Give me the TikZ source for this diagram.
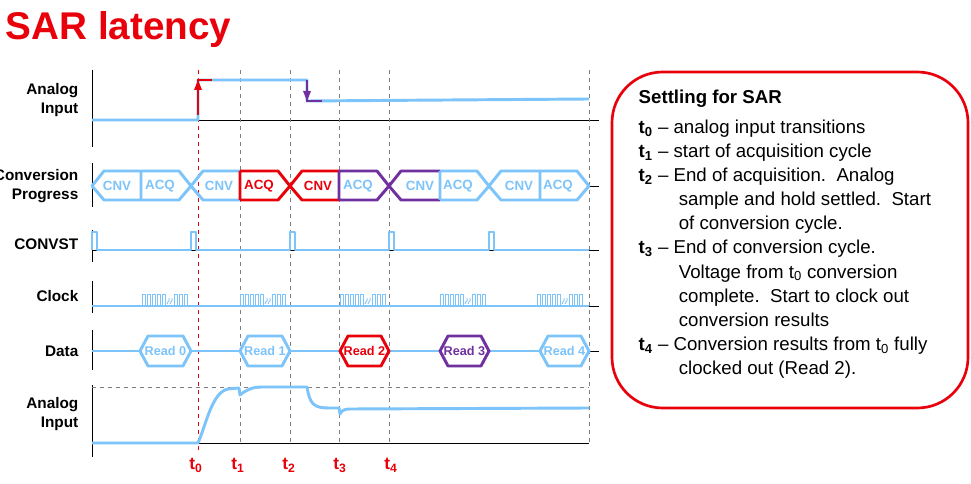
\documentclass[tikz,border=0pt]{standalone}
\usepackage{fontspec}
\setmainfont{Liberation Sans}
\begin{document}
\definecolor{sb}{HTML}{7CC4FA}
\definecolor{sr}{HTML}{E8000B}
\definecolor{sp}{HTML}{7030A0}
\begin{tikzpicture}[x=0.75pt,y=-0.75pt,
  sig/.style={line width=2.2pt,line join=round},
  ax/.style={line width=0.7pt,black},
  grid/.style={gray,dashed,line width=0.5pt},
  lab/.style={font=\bfseries\fontsize{11.5}{14}\selectfont,align=right,anchor=east},
  hx/.style={font=\bfseries\fontsize{10}{12}\selectfont},
  tl/.style={font=\bfseries\fontsize{13}{15}\selectfont,text=sr},
  bt/.style={font=\fontsize{14}{18.1}\selectfont,anchor=west,align=left}]
\path[use as bounding box,fill=white] (0,0) rectangle (971,484);
\node[anchor=west,font=\bfseries\fontsize{29}{33}\selectfont,text=sr] (title) at (1,30) {SAR latency};
% labels
\node[lab] (l1) at (83,100) {Analog\\Input};
\node[lab] (l2) at (83,186) {Conversion\\Progress};
\node[lab] (l3) at (83,244) {CONVST};
\node[lab] (l4) at (83,296) {Clock};
\node[lab] (l5) at (83,351) {Data};
\node[lab] (l6) at (83,414) {Analog\\Input};
% axes
\draw[ax] (92,70)--(92,147); \draw[ax] (92,120)--(599,120);
\draw[ax] (92,163)--(92,207); \draw[ax] (589,186)--(599,186);
\draw[ax] (92,230)--(92,262); \draw[ax] (92,250)--(599,250);
\draw[ax] (92,281)--(92,313); \draw[ax] (92,306)--(599,306);
\draw[ax] (92,330)--(92,370); \draw[ax] (589,351)--(599,351);
\draw[ax] (92,385)--(92,457); \draw[ax] (198,443)--(589,443);
% grid
\foreach \x in {240,290,339,389,589} \draw[grid] (\x,70)--(\x,443);
\draw[grid] (92,387)--(589,387);
\draw[sr,dashed,line width=0.7pt] (198,70)--(198,452);
% top analog
\draw[sig,sb] (92,120)--(198,120)--(198,80)--(307,80)--(307,101)--(589,99);
\draw[sr,line width=1pt] (198,115)--(198,80)--(212,80);
\fill[sr] (198,80)--(194,90)--(202,90)--cycle;
\draw[sp,line width=1pt] (307,80)--(307,101)--(322,101);
\fill[sp] (307,101)--(303,91)--(311,91)--cycle;
% conversion progress
\draw[sig,sb] (92,186)--(104,171)--(179,171)--(191,186)--(179,200)--(104,200)--cycle (141,171)--(141,200);
\draw[sig,sb] (240,171)--(203,171)--(191,186)--(203,200)--(240,200);
\draw[sig,sr] (240,171)--(278,171)--(290,186)--(278,200)--(240,200) (240,171)--(240,200);
\draw[sig,sr] (339,171)--(302,171)--(290,186)--(302,200)--(339,200);
\draw[sig,sp] (339,171)--(377,171)--(389,186)--(377,200)--(339,200) (339,171)--(339,200);
\draw[sig,sp] (440,171)--(401,171)--(389,186)--(401,200)--(440,200);
\draw[sig,sb] (440,171)--(477,171)--(489,186)--(477,200)--(440,200) (440,171)--(440,200);
\draw[sig,sb] (489,186)--(501,171)--(577,171)--(589,186)--(577,200)--(501,200)--cycle (540,171)--(540,200);
\node[hx,text=sb] (c1) at (117,186) {CNV}; \node[hx,text=sb] (a1) at (160,186) {ACQ};
\node[hx,text=sb] (c2) at (219,186) {CNV}; \node[hx,text=sr] (a2) at (259,186) {ACQ};
\node[hx,text=sr] (c3) at (318,186) {CNV}; \node[hx,text=sb] (a3) at (358,186) {ACQ};
\node[hx,text=sb] (c4) at (420,186) {CNV}; \node[hx,text=sb] (a4) at (458,186) {ACQ};
\node[hx,text=sb] (c5) at (519,186) {CNV}; \node[hx,text=sb] (a5) at (558,186) {ACQ};
% CONVST
\draw[sig,sb,line width=1.8pt] (92,250)--(92,232)--(97,232)--(97,250)--(191,250)--(191,232)--(196,232)--(196,250)
 --(290,250)--(290,232)--(295,232)--(295,250)--(389,250)--(389,232)--(394,232)--(394,250)
 --(489,250)--(489,232)--(494,232)--(494,250)--(589,250);
% clock
\draw[sb,line width=0.8pt] (92,306)--(589,306);
\foreach \s in {142,240,340,440,537}{
  \foreach \k in {0,1,2,3,4} \draw[sb,line width=0.6pt] (\s+\k*5,306)--(\s+\k*5,294)--(\s+\k*5+3,294)--(\s+\k*5+3,306);
  \foreach \k in {0,1,2} \draw[sb,line width=0.6pt] (\s+32+\k*5,306)--(\s+32+\k*5,294)--(\s+32+\k*5+3,294)--(\s+32+\k*5+3,306);
  \draw[sb,line width=0.6pt] (\s+25,304) .. controls (\s+26,300) and (\s+28,302) .. (\s+27,298);
  \draw[sb,line width=0.6pt] (\s+28,304) .. controls (\s+29,300) and (\s+31,302) .. (\s+30,298);
}
% data
\draw[sig,sb] (92,351)--(589,351);
\foreach \a/\b/\c/\n in {140/191/sb/0,240/290/sb/1,340/389/sr/2,440/489/sp/3,540/589/sb/4}{
  \draw[sig,\c,fill=white] (\a,351)--(\a+8,336)--(\b-8,336)--(\b,351)--(\b-8,366)--(\a+8,366)--cycle;
  \node[hx,text=\c,font=\fontsize{9.5}{11}\selectfont\bfseries] (r\n) at ({(\a+\b)/2},351) {Read \n};
}
% bottom analog
\draw[sig,sb] (92,443)--(198,443) .. controls (206,425) and (212,392) .. (228,389)
 -- (239,388) -- (240,395) .. controls (246,390) and (252,387) .. (262,387) -- (307,387)
 .. controls (310,405) and (314,408) .. (330,408) -- (339,408) -- (340,414)
 .. controls (342,410) and (345,409) .. (350,409) -- (589,408);
% t labels
\node[tl] (t0) at (196,465) {t\textsubscript{0}};
\node[tl] (t1) at (238,465) {t\textsubscript{1}};
\node[tl] (t2) at (289,465) {t\textsubscript{2}};
\node[tl] (t3) at (340,465) {t\textsubscript{3}};
\node[tl] (t4) at (391,465) {t\textsubscript{4}};
% box
\draw[sr,line width=2pt,rounded corners=38pt] (612,72) rectangle (968,408);
\node[anchor=west,font=\bfseries\fontsize{14}{17}\selectfont] (head) at (634,99) {Settling for SAR};
\node[bt,anchor=north west] (txt) at (634,115) {%
\textbf{t\textsubscript{0}} -- analog input transitions\\
\textbf{t\textsubscript{1}} -- start of acquisition cycle\\
\textbf{t\textsubscript{2}} -- End of acquisition.\ \ Analog\\
\hspace{2.15em}sample and hold settled.\ \ Start\\
\hspace{2.15em}of conversion cycle.\\
\textbf{t\textsubscript{3}} -- End of conversion cycle.\\
\hspace{2.15em}Voltage from t\textsubscript{0} conversion\\
\hspace{2.15em}complete.\ \ Start to clock out\\
\hspace{2.15em}conversion results\\
\textbf{t\textsubscript{4}} -- Conversion results from t\textsubscript{0} fully\\
\hspace{2.15em}clocked out (Read 2).};
\end{tikzpicture}
\end{document}
